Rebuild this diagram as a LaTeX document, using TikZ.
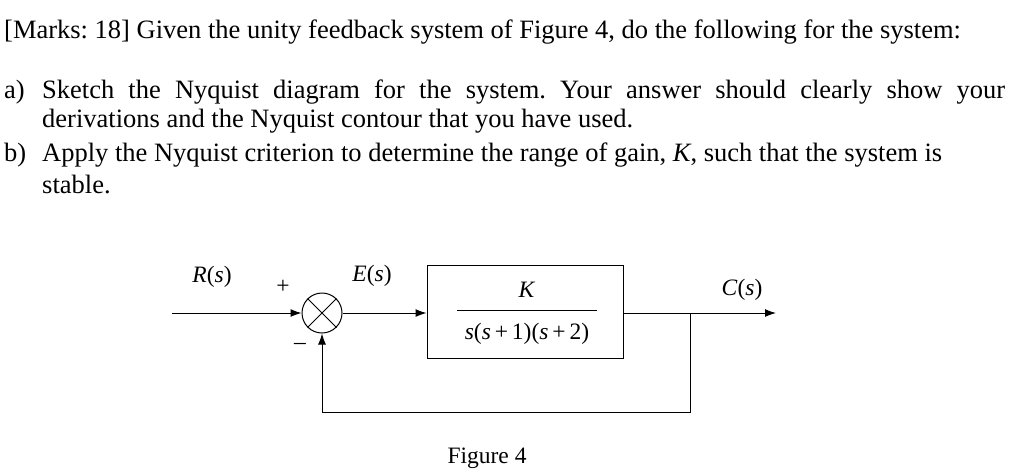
\documentclass[tikz,border=0pt]{standalone}
\usepackage{fontspec}
\setmainfont{Liberation Serif}
\usetikzlibrary{arrows.meta}
\begin{document}
\frenchspacing
\begin{tikzpicture}[x=1pt,y=-1pt,
  txt/.style={anchor=west,inner sep=0pt,font=\fontsize{26.5}{30}\selectfont},
  lbl/.style={inner sep=0pt,font=\fontsize{23.5}{28}\selectfont},
  sig/.style={line width=1pt,-{Latex[length=11pt,width=8pt]}},
  ln/.style={line width=1pt}]
\useasboundingbox (0,0) rectangle (1024,472);
\node[txt] (l1) at (4,32) {[Marks: 18] Given the unity feedback system of Figure 4, do the following for the system:};
\node[txt] (a) at (4,92) {a)};
\node[txt,text width=963pt,align=justify] (a1) at (42,92) {{\parfillskip=0pt Sketch the Nyquist diagram for the system. Your answer should clearly show your\par}};
\node[txt] (a2) at (42,121) {derivations and the Nyquist contour that you have used.};
\node[txt] (b) at (4,155) {b)};
\node[txt] (b1) at (42,155) {Apply the Nyquist criterion to determine the range of gain, \textit{K}, such that the system is};
\node[txt] (b2) at (42,184) {stable.};
% block diagram
\coordinate (in) at (172,313);
\node[draw,circle,line width=1pt,minimum size=40pt,inner sep=0pt] (sum) at (322,313) {};
\draw[line width=1pt] (sum.north west)--(sum.south east) (sum.north east)--(sum.south west);
\node[draw,line width=1pt,minimum width=196pt,minimum height=93pt,inner sep=0pt] (G) at (525,311.5) {};
\node[lbl] (K) at (527,290) {\textit{K}};
\draw[line width=0.8pt] (457,310)--(597,310);
\node[lbl] (den) at (527,334) {\textit{s}(\textit{s}\,+\,1)(\textit{s}\,+\,2)};
\coordinate (out) at (776,313);
\coordinate (tap) at (690,313);
\coordinate (fb) at (690,412);
\coordinate (fb2) at (322,412);
\draw[sig] (in)--(sum.west);
\draw[sig] (sum.east)--(G.west|-sum.east);
\draw[sig] (G.east|-out)--(out);
\draw[ln] (tap)--(fb)--(fb2);
\draw[sig] (fb2)--(sum.south);
\node[lbl] (R) at (212,277) {\textit{R}(\textit{s})};
\node[lbl] (pl) at (283,287) {+};
\node[lbl] (mi) at (300,346) {\textendash};
\node[lbl] (E) at (372,276) {\textit{E}(\textit{s})};
\node[lbl] (C) at (742,290) {\textit{C}(\textit{s})};
\node[lbl] (f4) at (487,458) {Figure 4};
\end{tikzpicture}
\end{document}
